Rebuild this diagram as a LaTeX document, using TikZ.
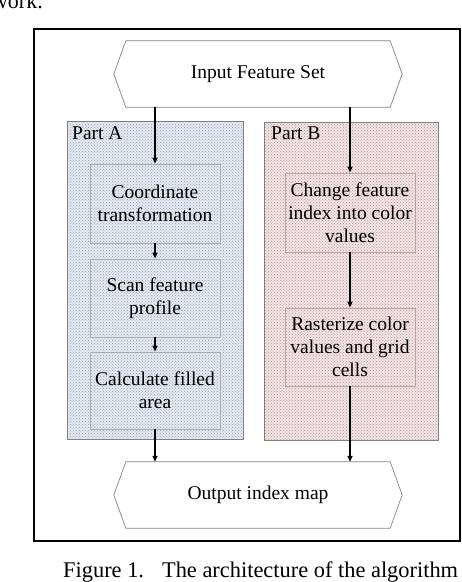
\documentclass[tikz,border=0pt]{standalone}
\usepackage{fontspec}
\setmainfont{Liberation Serif}
\usetikzlibrary{arrows.meta,patterns}
\definecolor{abg}{RGB}{228,234,241}
\definecolor{adot}{RGB}{145,163,182}
\definecolor{bbg}{RGB}{242,228,228}
\definecolor{bdot}{RGB}{185,150,150}
\definecolor{aline}{RGB}{165,175,188}
\definecolor{bline}{RGB}{190,160,160}
\definecolor{hexgray}{RGB}{130,130,130}
\begin{document}
\begin{tikzpicture}[x=1pt,y=-1pt,
  txt/.style={font=\fontsize{19.5}{23}\selectfont},
  partA/.style={draw=gray, line width=0.8pt, preaction={fill=abg}, pattern=crosshatch dots, pattern color=adot, inner sep=0pt},
  partB/.style={draw=gray, line width=0.8pt, preaction={fill=bbg}, pattern=crosshatch dots, pattern color=bdot, inner sep=0pt},
  boxA/.style={txt, draw=aline, line width=0.8pt, align=center, inner sep=0pt, minimum width=130pt},
  boxB/.style={txt, draw=bline, line width=0.8pt, align=center, inner sep=0pt, minimum width=130pt},
  hexnode/.style={txt, inner sep=0pt, minimum width=288pt, minimum height=66pt},
  hexline/.style={draw=hexgray, line width=0.7pt},
  arr/.style={line width=1.3pt, -{Triangle[length=6pt,width=5pt]}},
  frame/.style={draw=black, line width=2pt},
  label/.style={txt, anchor=base west, inner sep=0pt}
]
\useasboundingbox (0,0) rectangle (462,582);
\begin{scope}
  \clip (0,0) rectangle (462,582);
  \node[anchor=base east, inner sep=0pt, font=\fontsize{22}{26}\selectfont] (prev) at (43,8.5) {work.};
\end{scope}

% outer frame
\node[frame, minimum width=426pt, minimum height=512pt, inner sep=0pt] (fr) at (247,285) {};

% parts
\node[partA, minimum width=176pt, minimum height=318pt] (pa) at (155,280) {};
\node[partB, minimum width=174pt, minimum height=318pt] (pb) at (351,281) {};
\node[label] (la) at (72,139) {Part A};
\node[label] (lb) at (271,139) {Part B};

% hexagons
\node[hexnode] (in) at (258,74) {Input Feature Set};
\draw[hexline] (in.west) -- ([xshift=12pt]in.north west) -- ([xshift=-12pt]in.north east) -- (in.east) -- ([xshift=-12pt]in.south east) -- ([xshift=12pt]in.south west) -- cycle;
\node[hexnode] (out) at (258,495) {Output index map};
\draw[hexline] (out.west) -- ([xshift=12pt]out.north west) -- ([xshift=-12pt]out.north east) -- (out.east) -- ([xshift=-12pt]out.south east) -- ([xshift=12pt]out.south west) -- cycle;

% part A boxes
\node[boxA, minimum height=79pt] (a1) at (155,203.5) {Coordinate\\transformation};
\node[boxA, minimum height=78pt] (a2) at (155,298) {Scan feature\\profile};
\node[boxA, minimum height=77pt] (a3) at (155,390.5) {Calculate filled\\area};

% part B boxes
\node[boxB, minimum height=79pt] (b1) at (350,212.5) {Change feature\\index into color\\values};
\node[boxB, minimum height=78pt] (b2) at (350,347) {Rasterize color\\values and grid\\cells};

% arrows
\draw[arr] (in.south -| a1.north) -- (a1.north);
\draw[arr] (a1.south) -- (a2.north);
\draw[arr] (a2.south) -- (a3.north);
\draw[arr] (a3.south) -- (out.north -| a3.south);
\draw[arr] (in.south -| b1.north) -- (b1.north);
\draw[arr] (b1.south) -- (b2.north);
\draw[arr] (b2.south) -- (out.north -| b2.south);

% caption
\node[anchor=base west, inner sep=0pt, font=\fontsize{22.4}{26}\selectfont] (cap) at (63,577) {Figure 1.\hspace{18pt}The architecture of the algorithm};
\end{tikzpicture}
\end{document}
